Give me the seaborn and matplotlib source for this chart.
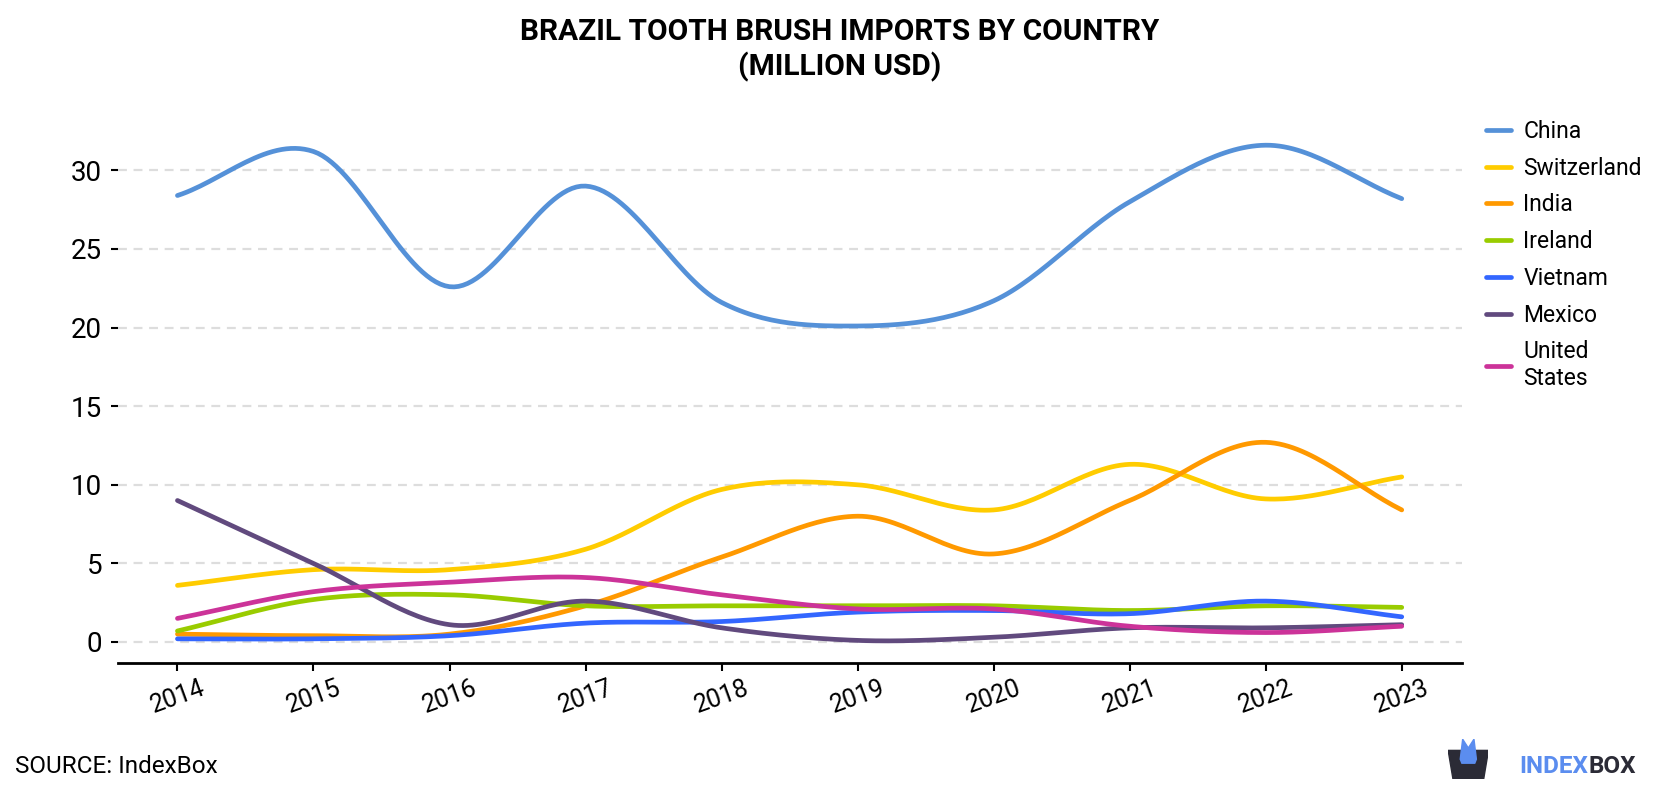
import numpy as np
import pandas as pd
import matplotlib
matplotlib.use("Agg")
import matplotlib.pyplot as plt
import seaborn as sns

# =====================================================
# DATA (million USD)
# =====================================================

years = [2014, 2015, 2016, 2017, 2018, 2019, 2020, 2021, 2022, 2023]

china = [28.4, 31.2, 22.6, 29.0, 21.6, 20.1, 21.7, 28.0, 31.6, 28.2]
switzerland = [3.6, 4.6, 4.6, 5.9, 9.7, 10.0, 8.4, 11.3, 9.1, 10.5]
india = [0.5, 0.4, 0.5, 2.3, 5.4, 8.0, 5.6, 9.0, 12.7, 8.4]
ireland = [0.7, 2.7, 3.0, 2.3, 2.3, 2.3, 2.3, 2.0, 2.3, 2.2]
vietnam = [0.2, 0.2, 0.4, 1.2, 1.3, 1.9, 2.0, 1.8, 2.6, 1.6]
mexico = [9.0, 5.0, 1.1, 2.6, 0.9, 0.1, 0.3, 0.9, 0.9, 1.1]
united_states = [1.5, 3.2, 3.8, 4.1, 3.0, 2.1, 2.1, 1.0, 0.6, 1.0]

countries = ["China", "Switzerland", "India", "Ireland", "Vietnam", "Mexico", "United States"]
series = [china, switzerland, india, ireland, vietnam, mexico, united_states]
colors = ["#5591d8", "#ffcc00", "#ff9900", "#99cc00", "#3366ff", "#614a7e", "#cc3399"]
legend_labels = ["China", "Switzerland", "India", "Ireland", "Vietnam", "Mexico", "United\nStates"]


# =====================================================
# SMOOTH CURVE (Catmull-Rom through the yearly points, display only)
# =====================================================

def smooth(x, y, steps=30):
    x = np.asarray(x, dtype=float)
    y = np.asarray(y, dtype=float)
    px = np.concatenate([[2 * x[0] - x[1]], x, [2 * x[-1] - x[-2]]])
    py = np.concatenate([[2 * y[0] - y[1]], y, [2 * y[-1] - y[-2]]])
    xs, ys = [], []
    t = np.linspace(0, 1, steps, endpoint=False)
    for i in range(1, len(px) - 2):
        p0, p1, p2, p3 = py[i - 1], py[i], py[i + 1], py[i + 2]
        ys.append(0.5 * (2 * p1 + (-p0 + p2) * t
                         + (2 * p0 - 5 * p1 + 4 * p2 - p3) * t ** 2
                         + (-p0 + 3 * p1 - 3 * p2 + p3) * t ** 3))
        xs.append(px[i] + (px[i + 1] - px[i]) * t)
    xs.append([x[-1]])
    ys.append([y[-1]])
    return np.concatenate(xs), np.concatenate(ys)


frames = []
for name, vals in zip(countries, series):
    sx, sy = smooth(years, vals)
    frames.append(pd.DataFrame({"Year": sx, "Value": sy, "Country": name}))
df = pd.concat(frames, ignore_index=True)

# =====================================================
# PLOT
# =====================================================

sns.set_theme(style="white")
plt.rcParams["font.family"] = ["Roboto", "DejaVu Sans"]
plt.rcParams["text.color"] = "black"
plt.rcParams["xtick.color"] = "black"
plt.rcParams["ytick.color"] = "black"

fig = plt.figure(figsize=(16.8, 8), dpi=100)
ax = fig.add_axes([0.070, 0.171, 0.800, 0.675])

sns.lineplot(
    data=df, x="Year", y="Value", hue="Country",
    hue_order=countries, palette=colors,
    sort=False, estimator=None, linewidth=3.4, ax=ax, legend=False
)

ax.set_xlim(2013.56, 2023.44)
ax.set_ylim(-1.35, 33)
ax.set_xticks(years)
ax.set_xticklabels([str(y) for y in years], rotation=20, fontsize=18)
ax.set_yticks([0, 5, 10, 15, 20, 25, 30])
ax.tick_params(axis="y", labelsize=20, length=5, width=1.5, color="black", pad=6, left=True)
ax.tick_params(axis="x", length=6, width=1.5, color="black", pad=3, bottom=True)
ax.set_xlabel("")
ax.set_ylabel("")

ax.yaxis.grid(True, color="#dddddd", linestyle=(0, (4, 3)), linewidth=1.6)
ax.xaxis.grid(False)
ax.set_axisbelow(True)

for s in ["top", "right", "left"]:
    ax.spines[s].set_visible(False)
ax.spines["bottom"].set_color("black")
ax.spines["bottom"].set_linewidth(2)

handles = [plt.Line2D([0], [0], color=c, lw=3.4) for c in colors]
leg = fig.legend(
    handles, legend_labels, loc="upper left", bbox_to_anchor=(0.872, 0.876),
    frameon=False, fontsize=16.5, handlelength=1.1, handletextpad=0.55,
    labelspacing=0.6
)

fig.text(0.5, 0.978, "BRAZIL TOOTH BRUSH IMPORTS BY COUNTRY\n(MILLION USD)",
         ha="center", va="top", fontsize=21.5, fontweight="bold", linespacing=1.25)

fig.text(0.009, 0.028, "SOURCE: IndexBox", ha="left", va="bottom", fontsize=17.5)

# brand text: INDEX (blue) immediately followed by BOX (dark)
t1 = fig.text(0.9045, 0.028, "INDEX", ha="left", va="bottom", fontsize=17.5,
              fontweight="bold", color="#5b8def")
fig.canvas.draw()
bb = t1.get_window_extent().transformed(fig.transFigure.inverted())
fig.text(bb.x1, 0.028, "BOX", ha="left", va="bottom", fontsize=17.5,
         fontweight="bold", color="#2b2b36")

# small logo box
logo = fig.add_axes([0.862, 0.026, 0.024, 0.05])
logo.axis("off")
logo.set_xlim(0, 1)
logo.set_ylim(0, 1)
logo.fill([0.0, 1.0, 0.88, 0.12], [0.72, 0.72, 0.0, 0.0], color="#2b2b36")
logo.fill([0.3, 0.36, 0.5, 0.64, 0.7, 0.66, 0.34], [0.5, 1.0, 0.78, 1.0, 0.5, 0.4, 0.4], color="#5b8def")

fig.savefig("out.png", dpi=100)
